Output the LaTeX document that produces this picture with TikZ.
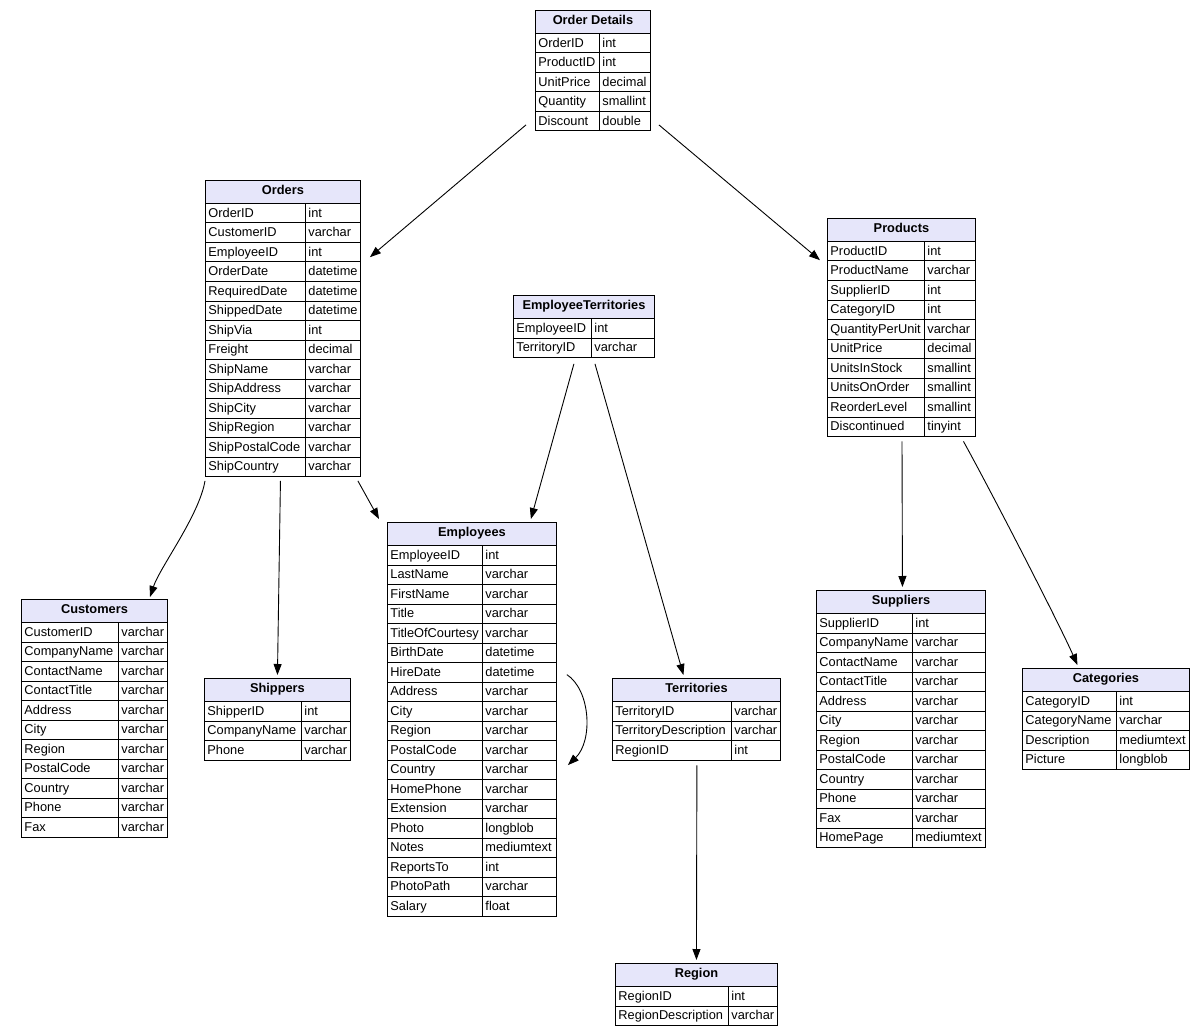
\documentclass[tikz,border=0pt]{standalone}
\usepackage{fontspec}
\setmainfont{Liberation Sans}
\usetikzlibrary{arrows.meta}
\definecolor{headfill}{RGB}{230,230,250}
\newcommand{\tabfont}{\fontsize{12.8pt}{15pt}\selectfont}
% #1 name, #2 #3 top left, #4 #5 column widths, #6 title, #7 rows
\newcommand{\dbtable}[7]{%
  \node[tablehead, minimum width={#4pt+#5pt}] (#1) at (#2,#3) {#6};
  \foreach \fld/\typ [count=\i] in {#7}{
    \node[fieldcell, minimum width=#4pt, text width=#4pt-6pt] (#1-\i) at (#2,#3+23+\i*19.5-19.5) {\fld};
    \node[fieldcell, minimum width=#5pt, text width=#5pt-6pt] (#1-\i-t) at (#2+#4,#3+23+\i*19.5-19.5) {\typ};
  }
}
\tikzset{
  tablehead/.style={draw, fill=headfill, anchor=north west, minimum height=23pt, inner sep=0pt, font=\tabfont\bfseries, text height=10pt, text depth=5pt},
  fieldcell/.style={draw, anchor=north west, minimum height=19.5pt, inner xsep=3pt, inner ysep=0pt, font=\tabfont, align=left, text height=10pt, text depth=2.3pt},
  fk/.style={-{Triangle[length=11pt,width=8pt]}, line width=0.9pt, draw=black}
}
\begin{document}
\begin{tikzpicture}[x=1pt, y=-1pt, line width=0.9pt]
\fill[white] (0,0) rectangle (1200,1035);
\useasboundingbox (0,0) rectangle (1200,1035);

\dbtable{orderdetails}{535}{10}{64}{51}{Order Details}{OrderID/int, ProductID/int, UnitPrice/decimal, Quantity/smallint, Discount/double}
\dbtable{orders}{205}{180}{100}{55}{Orders}{OrderID/int, CustomerID/varchar, EmployeeID/int, OrderDate/datetime, RequiredDate/datetime, ShippedDate/datetime, ShipVia/int, Freight/decimal, ShipName/varchar, ShipAddress/varchar, ShipCity/varchar, ShipRegion/varchar, ShipPostalCode/varchar, ShipCountry/varchar}
\dbtable{empterr}{513}{295}{78}{63}{EmployeeTerritories}{EmployeeID/int, TerritoryID/varchar}
\dbtable{products}{827}{218}{97}{51}{Products}{ProductID/int, ProductName/varchar, SupplierID/int, CategoryID/int, QuantityPerUnit/varchar, UnitPrice/decimal, UnitsInStock/smallint, UnitsOnOrder/smallint, ReorderLevel/smallint, Discontinued/tinyint}
\dbtable{customers}{21}{599}{97}{49}{Customers}{CustomerID/varchar, CompanyName/varchar, ContactName/varchar, ContactTitle/varchar, Address/varchar, City/varchar, Region/varchar, PostalCode/varchar, Country/varchar, Phone/varchar, Fax/varchar}
\dbtable{shippers}{204}{678}{97}{49}{Shippers}{ShipperID/int, CompanyName/varchar, Phone/varchar}
\dbtable{employees}{387}{522}{95}{74}{Employees}{EmployeeID/int, LastName/varchar, FirstName/varchar, Title/varchar, TitleOfCourtesy/varchar, BirthDate/datetime, HireDate/datetime, Address/varchar, City/varchar, Region/varchar, PostalCode/varchar, Country/varchar, HomePhone/varchar, Extension/varchar, Photo/longblob, Notes/mediumtext, ReportsTo/int, PhotoPath/varchar, Salary/float}
\dbtable{territories}{612}{678}{119}{49}{Territories}{TerritoryID/varchar, TerritoryDescription/varchar, RegionID/int}
\dbtable{region}{615}{963}{113}{49}{Region}{RegionID/int, RegionDescription/varchar}
\dbtable{suppliers}{816}{590}{96}{73}{Suppliers}{SupplierID/int, CompanyName/varchar, ContactName/varchar, ContactTitle/varchar, Address/varchar, City/varchar, Region/varchar, PostalCode/varchar, Country/varchar, Phone/varchar, Fax/varchar, HomePage/mediumtext}
\dbtable{categories}{1022}{668}{94}{73}{Categories}{CategoryID/int, CategoryName/varchar, Description/mediumtext, Picture/longblob}

% foreign keys
\draw[fk] ([xshift=-9pt,yshift=6.5pt]orderdetails-5.south west) -- ([xshift=9pt,yshift=-5pt]orders-3-t.east);
\draw[fk] ([xshift=8pt,yshift=6.5pt]orderdetails-5-t.south east) -- ([xshift=-7pt,yshift=-9pt]products-1.west);
\draw[fk] ([yshift=-4pt]orders-14.south west) .. controls +(-6,35) and +(10,-30) .. ([xshift=129pt,yshift=2pt]customers.north west);
\draw[fk] ([xshift=25pt,yshift=-4pt]orders-14.south) -- ([yshift=3pt]shippers.north);
\draw[fk] ([xshift=-3pt,yshift=-4pt]orders-14-t.south east) -- ([xshift=-8pt,yshift=3pt]employees.north west);
\draw[fk] ([xshift=-18pt,yshift=-6pt]empterr-2.south east) -- ([xshift=-26pt,yshift=3pt]employees.north east);
\draw[fk] ([xshift=4pt,yshift=-6pt]empterr-2-t.south west) -- ([xshift=-13pt,yshift=3pt]territories.north);
\draw[fk] ([xshift=10pt,yshift=-2.4pt]employees-7-t.east) .. controls +(24,16) and +(25,-24) .. ([xshift=11pt,yshift=4.6pt]employees-12-t.east);
\draw[fk] ([xshift=-35pt,yshift=-5pt]territories-3.south east) -- ([yshift=3pt]region.north);
\draw[fk] ([xshift=-22pt,yshift=-4.5pt]products-10-t.south west) -- ([xshift=1.5pt,yshift=3pt]suppliers.north);
\draw[fk] ([xshift=13.5pt,yshift=-4.5pt]products-10-t.south) .. controls +(25,45) and +(-20,-45) .. ([xshift=-28.5pt,yshift=3pt]categories.north);
\end{tikzpicture}
\end{document}
